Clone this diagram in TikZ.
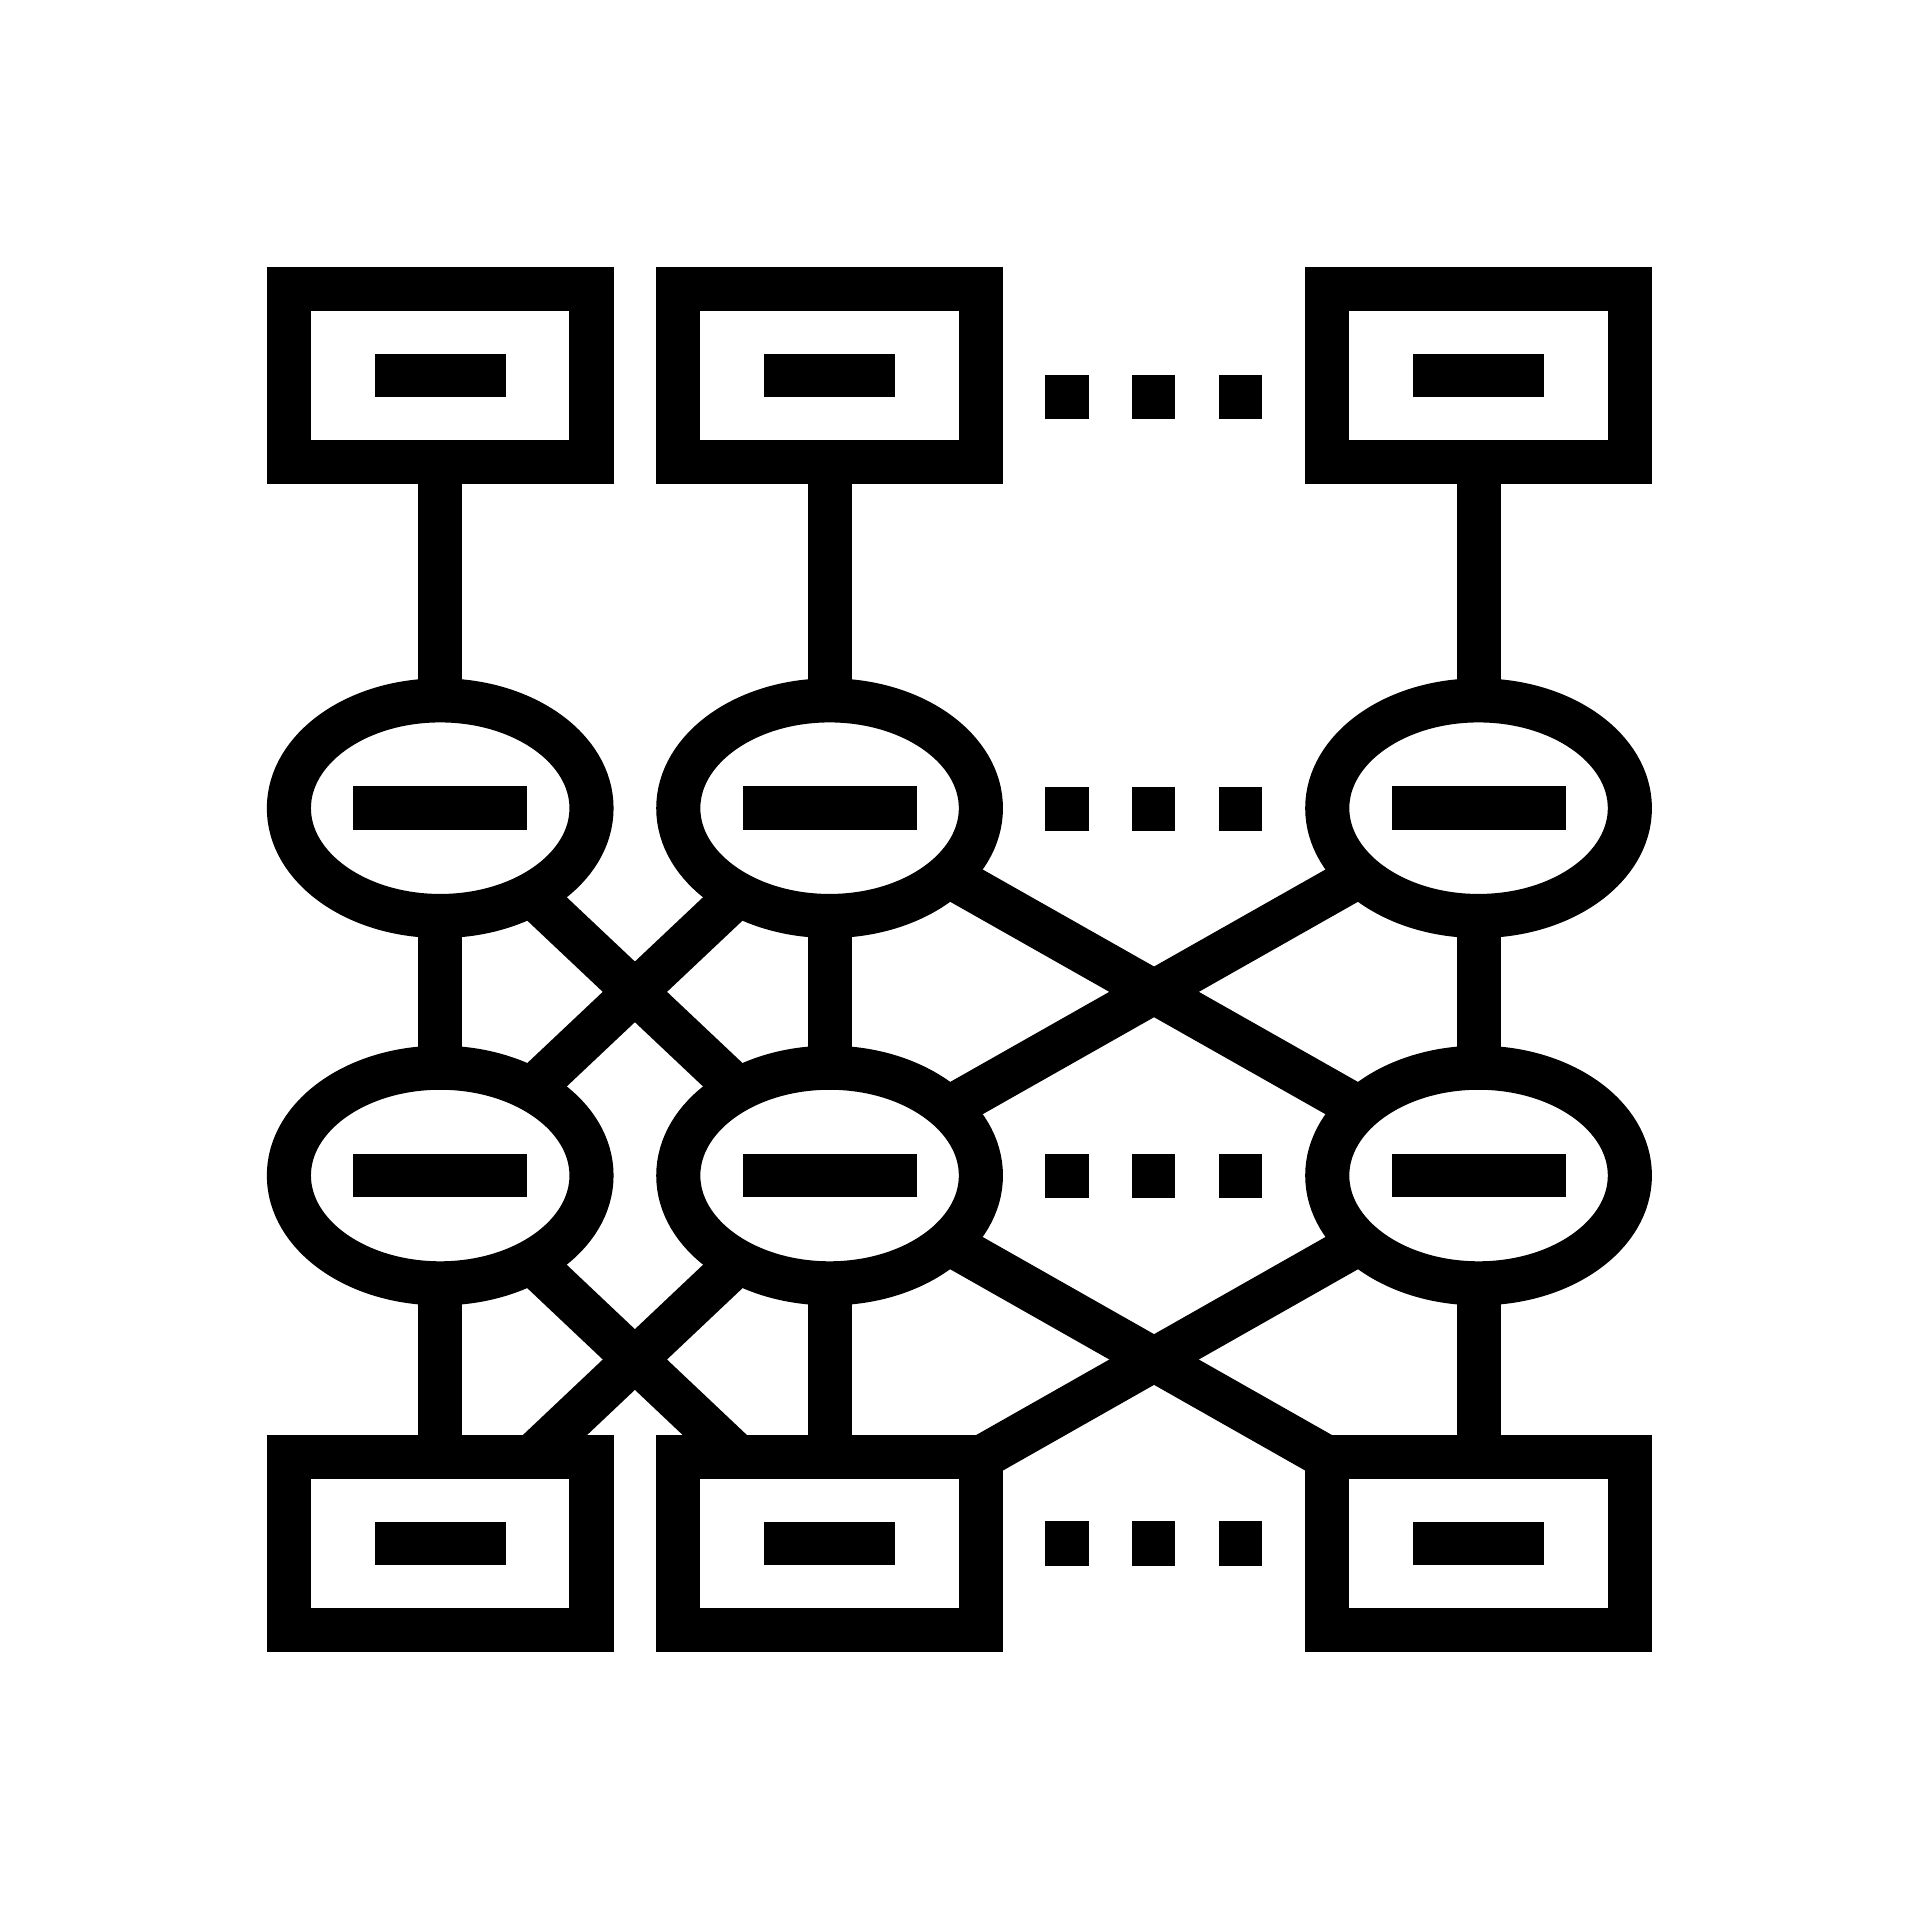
\documentclass[tikz,border=0pt]{standalone}
\usetikzlibrary{shapes.geometric,backgrounds}
\begin{document}
\begin{tikzpicture}[x=0.01cm,y=-0.01cm,
  box/.style={draw=black,fill=white,line width=0.36cm,rectangle,minimum width=2.47cm,minimum height=1.41cm,inner sep=0pt,outer sep=0pt,line join=miter},
  oval/.style={draw=black,fill=white,line width=0.36cm,ellipse,minimum width=2.47cm,minimum height=1.76cm,inner sep=0pt,outer sep=0pt},
  bar/.style={fill=black,rectangle,minimum width=1.07cm,minimum height=0.355cm,inner sep=0pt,outer sep=0pt},
  wbar/.style={fill=black,rectangle,minimum width=1.42cm,minimum height=0.355cm,inner sep=0pt,outer sep=0pt},
  dot/.style={fill=black,rectangle,minimum width=0.355cm,minimum height=0.36cm,inner sep=0pt,outer sep=0pt},
  link/.style={line width=0.36cm,line cap=butt}]
\useasboundingbox (0,0) rectangle (1568,1568);
% top boxes
\node[box] (t1) at (359.5,306.5) {};
\node[box] (t2) at (677.5,306.5) {};
\node[box] (t3) at (1207.5,306.5) {};
% ellipses
\node[oval] (a1) at (359.5,660) {};
\node[oval] (a2) at (677.5,660) {};
\node[oval] (a3) at (1207.5,660) {};
\node[oval] (b1) at (359.5,960) {};
\node[oval] (b2) at (677.5,960) {};
\node[oval] (b3) at (1207.5,960) {};
% bottom boxes
\node[box] (u1) at (359.5,1260.5) {};
\node[box] (u2) at (677.5,1260.5) {};
\node[box] (u3) at (1207.5,1260.5) {};
% connectors behind
\begin{pgfonlayer}{background}
\fill[white] (0,0) rectangle (1568,1568);
\foreach \p/\q in {t1/a1,t2/a2,t3/a3,a1/b1,a2/b2,a3/b3,b1/u1,b2/u2,b3/u3,
  a1/b2,a2/b1,a2/b3,a3/b2,b1/u2,b2/u1,b2/u3,b3/u2}
  \draw[link] (\p.center) -- (\q.center);
\end{pgfonlayer}
% bars
\node[bar] (tb1) at (t1) {};
\node[bar] (tb2) at (t2) {};
\node[bar] (tb3) at (t3) {};
\node[wbar] (ab1) at (a1) {};
\node[wbar] (ab2) at (a2) {};
\node[wbar] (ab3) at (a3) {};
\node[wbar] (bb1) at (b1) {};
\node[wbar] (bb2) at (b2) {};
\node[wbar] (bb3) at (b3) {};
\node[bar] (ub1) at (u1) {};
\node[bar] (ub2) at (u2) {};
\node[bar] (ub3) at (u3) {};
% dots
\foreach \y/\n in {324/r1,660.5/r2,960.5/r3,1260.5/r4}{
  \node[dot] (d1\n) at (871.5,\y) {};
  \node[dot] (d2\n) at (942,\y) {};
  \node[dot] (d3\n) at (1013,\y) {};
}
\end{tikzpicture}
\end{document}
